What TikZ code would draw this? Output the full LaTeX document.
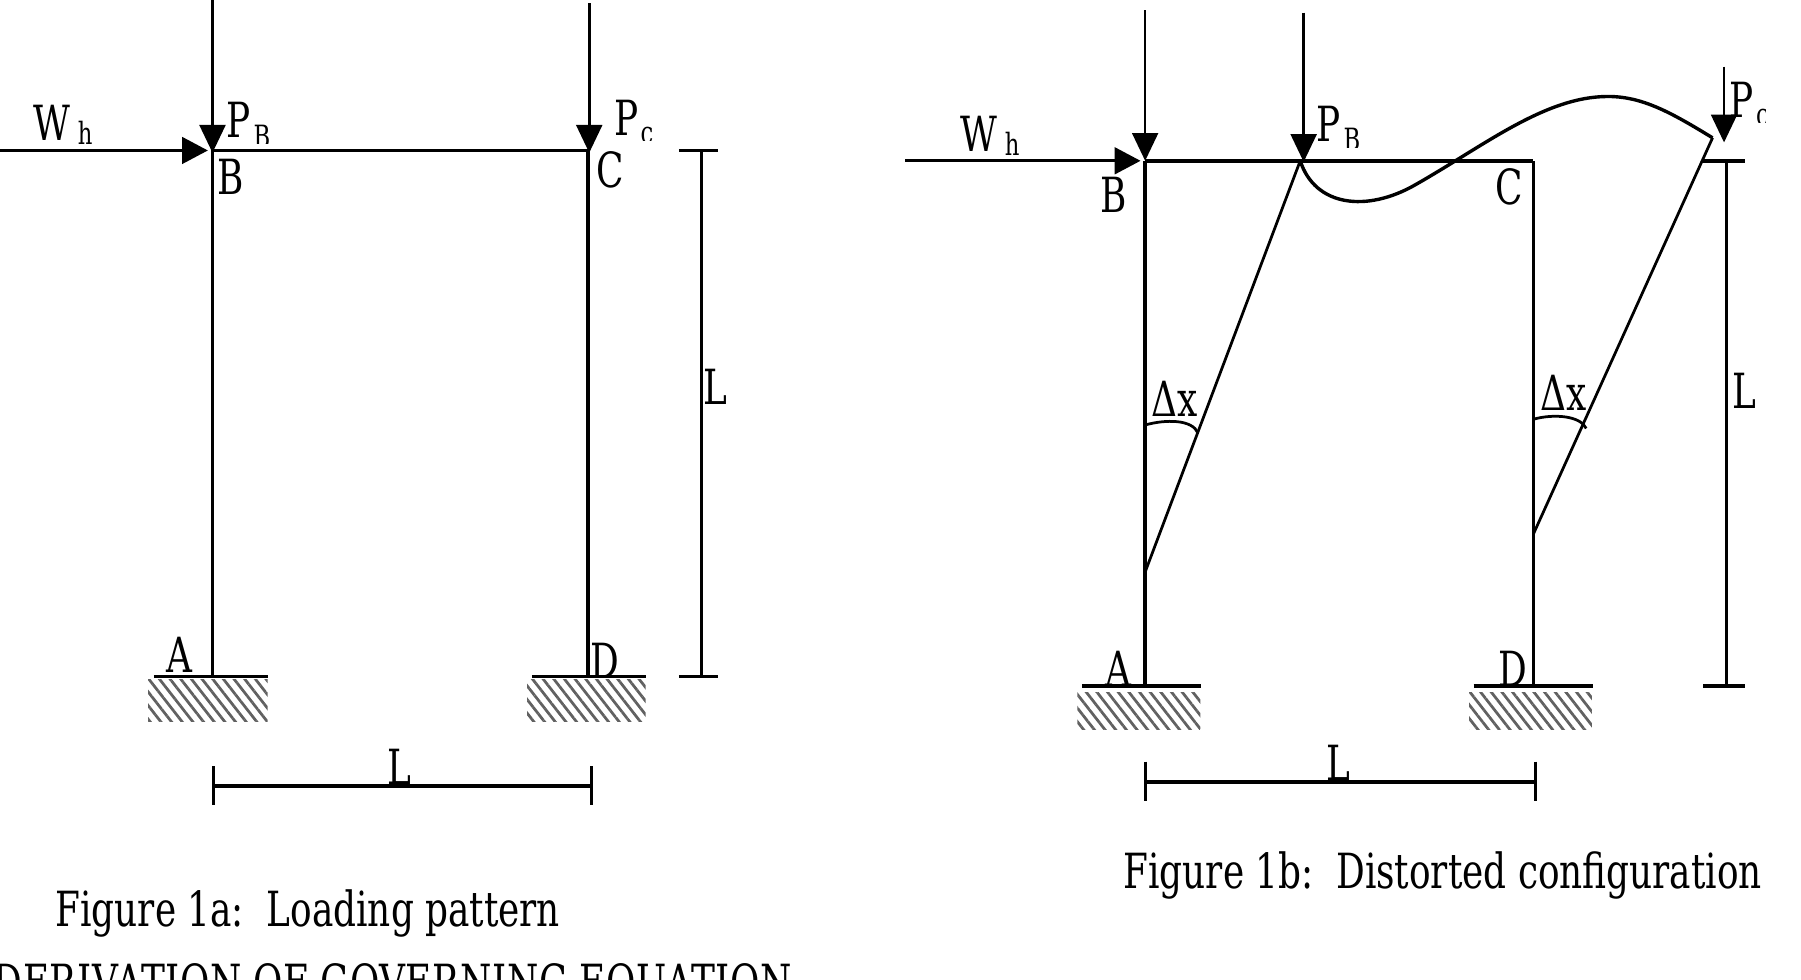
\documentclass[tikz,border=0pt]{standalone}
\usepackage{fontspec}
\setmainfont{DejaVu Serif}[FakeStretch=0.74]
\usetikzlibrary{arrows.meta,patterns.meta}
\definecolor{ink}{HTML}{000000}
\newcommand{\lowsub}[2]{\raisebox{-#1}{\fontsize{9.5}{10}\selectfont #2}}
\tikzset{
  frame/.style={draw=ink, line width=1.05pt},
  beam/.style={draw=ink, line width=1.2pt},
  thin/.style={draw=ink, line width=0.85pt},
  load/.style={draw=ink, line width=0.8pt, -{Triangle[width=8pt,length=8.6pt]}},
  wind/.style={draw=ink, line width=1pt, -{Triangle[width=8.2pt,length=8pt]}},
  hatch/.style={pattern={Lines[angle=-52,distance=2.6pt,line width=0.85pt]}, pattern color=ink!62},
  lab/.style={text=ink, inner sep=0pt, font=\fontsize{15}{18}\selectfont},
}
\begin{document}
\begin{tikzpicture}[x=0.0125cm,y=-0.0125cm]
  \useasboundingbox (0,0) rectangle (1568,853);
  \clip (0,0) rectangle (1568,853);
  % Figure 1a
  \coordinate (Aa) at (185,589);
  \coordinate (Ba) at (185,131);
  \coordinate (Ca) at (512,131);
  \coordinate (Da) at (512,589);
  \coordinate (Wa) at (0,131);
  \coordinate (Pba) at (185,-2);
  \coordinate (Pca) at (513,3);
  \draw[frame] (Aa)--(Ba);
  \draw[frame] (Da)--(Ca);
  \draw[beam] (Ba)--(Ca);
  \draw[load] (Pba)--(185,133);
  \draw[load] (Pca)--(513,133);
  \draw[wind] (Wa)--(181,131);
  \draw[beam] (134,589)--(233,589);
  \draw[beam] (463,589)--(562,589);
  \path[hatch] (129,592) rectangle (233,628);
  \path[hatch] (459,592) rectangle (562,628);
  \draw[thin] (611,131)--(611,589);
  \draw[beam] (591,131)--(625,131);
  \draw[beam] (591,589)--(625,589);
  \draw[beam] (186,684)--(515,684);
  \draw[thin] (186,667)--(186,701);
  \draw[thin] (515,667)--(515,701);
  \node[lab,anchor=base west] (Wha) at (29,122) {W\hspace{2.2pt}\lowsub{1.3pt}{h}};
  \begin{scope}
    \clip (190,80) rectangle (260,125);
    \node[lab,anchor=base west] (Pta) at (197,120) {P\hspace{0.8pt}\lowsub{3pt}{B}};
  \end{scope}
  \begin{scope}
    \clip (530,80) rectangle (600,122);
    \node[lab,anchor=base west] (Qta) at (534,118) {P\hspace{0.8pt}\lowsub{2.6pt}{c}};
  \end{scope}
  \node[lab] (Ata) at (156,570) {A};
  \node[lab] (Bta) at (201,154) {B};
  \node[lab] (Cta) at (531,148) {C};
  \node[lab] (Dta) at (527,575) {D};
  \node[lab] (La) at (623,337) {L};
  \node[lab] (Lb) at (348,668) {L};
  \node[lab] (capa) at (268,795) {Figure 1a:\ \ Loading pattern};
  \node[lab,anchor=base west,font=\fontsize{15}{18}\selectfont\addfontfeature{LetterSpace=1.3}] (head) at (-6,870) {DERIVATION OF GOVERNING EQUATION};
  % Figure 1b
  \coordinate (Ab) at (997,597);
  \coordinate (Bb) at (997,140);
  \coordinate (Cb) at (1335,140);
  \coordinate (Db) at (1335,597);
  \coordinate (Mb) at (1132,140);
  \coordinate (Tb) at (1491,120);
  \coordinate (Fb) at (997,498);
  \coordinate (Gb) at (1335,465);
  \draw[frame] (Ab)--(Bb);
  \draw[frame] (Db)--(Cb);
  \draw[beam] (Bb)--(Cb);
  \draw[load] (997,9)--(997,140);
  \draw[load] (1135,11)--(1135,141);
  \draw[load] (1501,58)--(1501,124);
  \draw[wind] (788,140)--(993,140);
  \draw[thin] (Fb)--(Mb);
  \draw[thin] (Gb)--(Tb);
  \draw[frame] (Mb) .. controls (1145,180) and (1190,185) .. (1232,161)
    .. controls (1292,127) and (1345,84) .. (1400,84)
    .. controls (1430,84) and (1455,98) .. (Tb);
  \draw[thin] (997,370) .. controls (1015,365) and (1038,365) .. (1043,377);
  \draw[thin] (1335,365) .. controls (1353,360) and (1376,362) .. (1381,373);
  \draw[beam] (942,597)--(1046,597);
  \draw[beam] (1283,597)--(1387,597);
  \path[hatch] (938,603) rectangle (1045,635);
  \path[hatch] (1279,603) rectangle (1386,635);
  \draw[frame] (1503,140)--(1503,597);
  \draw[beam] (1483,140)--(1519,140);
  \draw[beam] (1483,597)--(1519,597);
  \draw[beam] (997,681)--(1337,681);
  \draw[thin] (997,663)--(997,697);
  \draw[thin] (1337,663)--(1337,697);
  \node[lab,anchor=base west] (Whb) at (836,132) {W\hspace{2.2pt}\lowsub{1.3pt}{h}};
  \begin{scope}
    \clip (1140,80) rectangle (1200,128);
    \node[lab,anchor=base west] (Ptb) at (1146,123) {P\hspace{0.8pt}\lowsub{3pt}{B}};
  \end{scope}
  \begin{scope}
    \clip (1504,60) rectangle (1537,107);
    \node[lab,anchor=base west] (Qtb) at (1505,102) {P\hspace{0.8pt}\lowsub{2.6pt}{c}};
  \end{scope}
  \node[lab] (Atb) at (974,582) {A};
  \node[lab] (Btb) at (970,170) {B};
  \node[lab] (Ctb) at (1314,163) {C};
  \node[lab] (Dtb) at (1317,582) {D};
  \node[lab] (dxa) at (1023,347) {Δx};
  \node[lab] (dxb) at (1361,342) {Δx};
  \node[lab] (Lc) at (1519,340) {L};
  \node[lab] (Ld) at (1165,664) {L};
  \node[lab] (capb) at (1256,762) {Figure 1b:\ \ Distorted configuration};
\end{tikzpicture}
\end{document}
